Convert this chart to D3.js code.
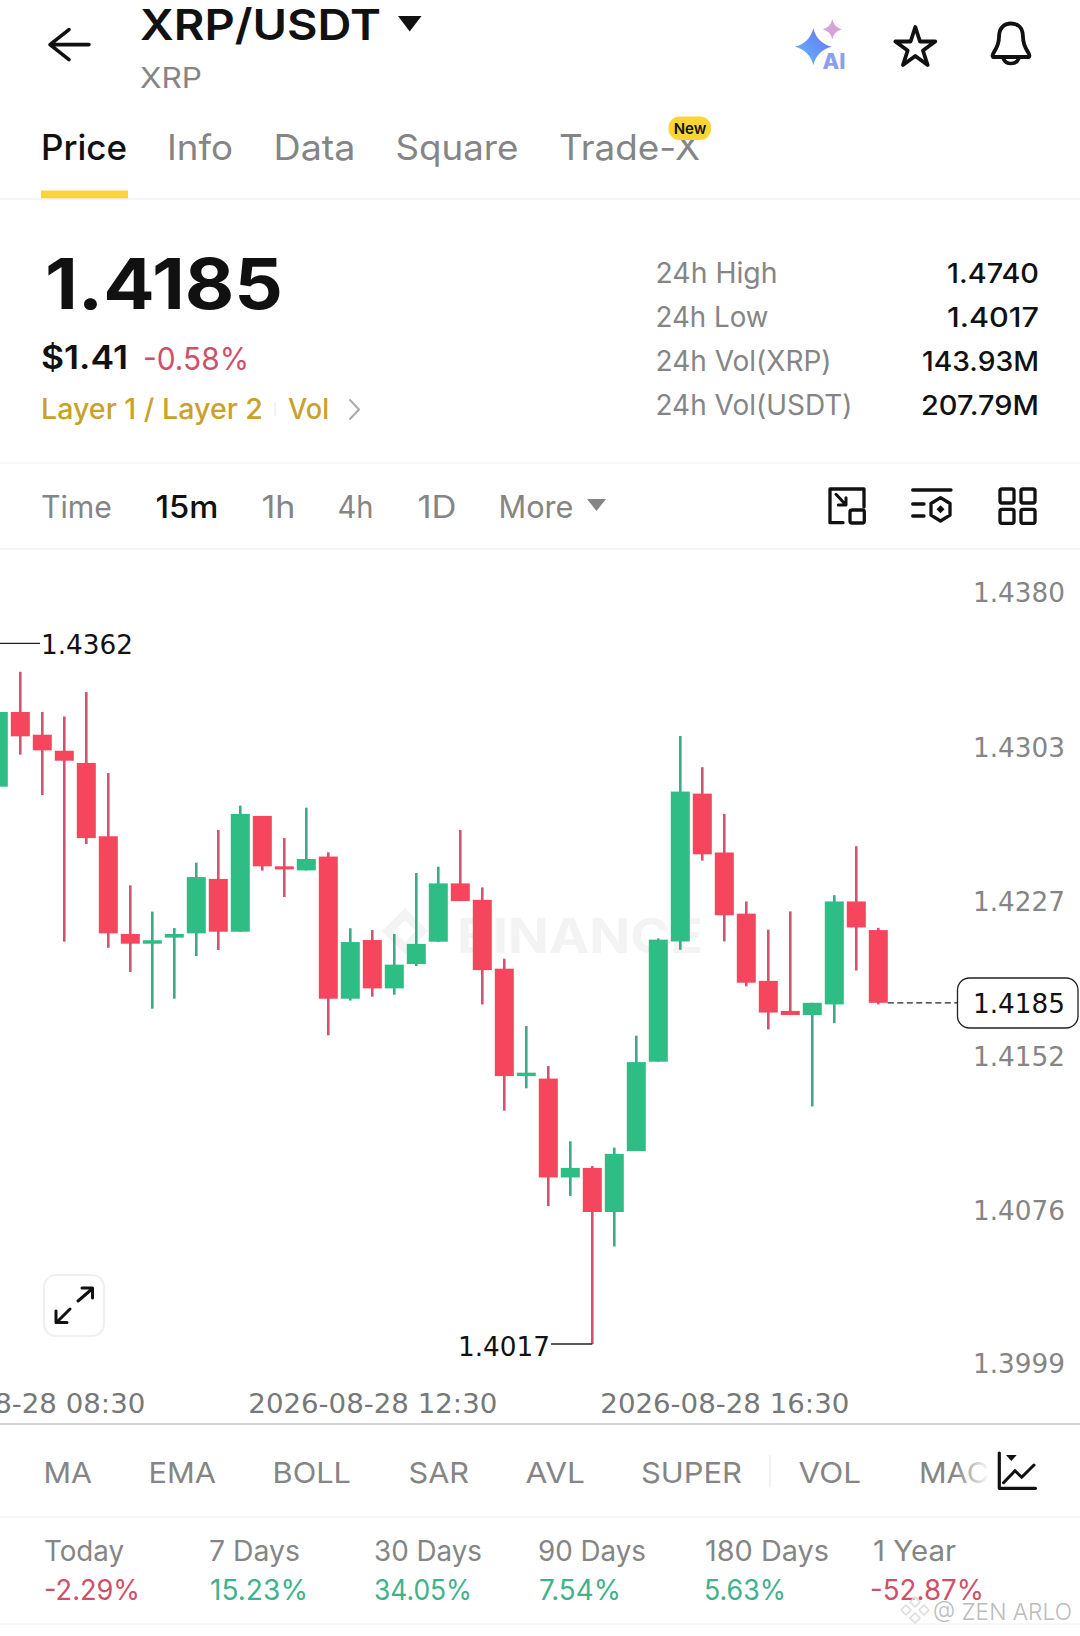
<!DOCTYPE html>
<html>
<head>
<meta charset="utf-8">
<title>XRP/USDT</title>
<script src="https://cdn.jsdelivr.net/npm/d3@7"></script>
<style>
    html, body { margin: 0; padding: 0; background: #fff; }
    svg { display: block; }
    text { font-family: Inter, "Noto Sans", sans-serif; }
    .axis text { font-family: "DejaVu Sans", sans-serif; }
    .axis path { display: none; }
</style>
</head>
<body>
<svg id="chart" width="1080" height="1636"></svg>
<script>
// Candles, one per 15 minutes
const tradeDate = "2026-08-28";
const candleTimes = [
    "08:15", "08:30", "08:45", "09:00", "09:15", "09:30", "09:45", "10:00", "10:15", "10:30",
    "10:45", "11:00", "11:15", "11:30", "11:45", "12:00", "12:15", "12:30", "12:45", "13:00",
    "13:15", "13:30", "13:45", "14:00", "14:15", "14:30", "14:45", "15:00", "15:15", "15:30",
    "15:45", "16:00", "16:15", "16:30", "16:45", "17:00", "17:15", "17:30", "17:45", "18:00", "18:15"
];
const openPrices = [
    1.42914, 1.43282, 1.43170, 1.43091, 1.43031, 1.42670, 1.42189, 1.42141, 1.42171, 1.42192,
    1.42460, 1.42200, 1.42770, 1.42522, 1.42502, 1.42570, 1.41870, 1.42159, 1.41921, 1.42041,
    1.42151, 1.42438, 1.42357, 1.42018, 1.41489, 1.41477, 1.40990, 1.41037, 1.40820, 1.41120,
    1.41560, 1.42152, 1.42880, 1.42590, 1.42289, 1.41958, 1.41810, 1.41790, 1.41842, 1.42349, 1.42208
];
const closePrices = [
    1.43282, 1.43162, 1.43093, 1.43042, 1.42661, 1.42192, 1.42141, 1.42158, 1.42189, 1.42469,
    1.42200, 1.42780, 1.42522, 1.42507, 1.42558, 1.41870, 1.42149, 1.41921, 1.42038, 1.42140,
    1.42438, 1.42351, 1.42011, 1.41489, 1.41506, 1.40990, 1.41037, 1.40820, 1.41106, 1.41558,
    1.42161, 1.42890, 1.42581, 1.42281, 1.41949, 1.41802, 1.41790, 1.41850, 1.42349, 1.42221, 1.41850
];
const highPrices = [
    1.43620, 1.43480, 1.43282, 1.43260, 1.43380, 1.42981, 1.42428, 1.42299, 1.42218, 1.42540,
    1.42701, 1.42821, 1.42770, 1.42661, 1.42811, 1.42591, 1.42217, 1.42208, 1.42189, 1.42489,
    1.42520, 1.42701, 1.42418, 1.42067, 1.41736, 1.41539, 1.41168, 1.41046, 1.41137, 1.41688,
    1.42167, 1.43164, 1.43010, 1.42780, 1.42349, 1.42210, 1.42300, 1.41850, 1.42380, 1.42621, 1.42219
];
const lowPrices = [
    1.42914, 1.43072, 1.42873, 1.42151, 1.42632, 1.42121, 1.42002, 1.41821, 1.41870, 1.42080,
    1.42110, 1.42200, 1.42501, 1.42371, 1.42502, 1.41690, 1.41861, 1.41880, 1.41890, 1.42031,
    1.42151, 1.42351, 1.41842, 1.41319, 1.41429, 1.40849, 1.40899, 1.40170, 1.40650, 1.41120,
    1.41560, 1.42111, 1.42550, 1.42152, 1.41931, 1.41719, 1.41790, 1.41340, 1.41750, 1.42009, 1.41842
];
const priceTicks = [1.4380, 1.4303, 1.4227, 1.4152, 1.4076, 1.3999];
const timeTicks = ["08:30", "12:30", "16:30"];
const lastPrice = 1.4185;
const periodHigh = 1.4362;
const periodLow = 1.4017;

// Page texts
const tabLabels = ["Price", "Info", "Data", "Square", "Trade-X"];
const statLabels = ["24h High", "24h Low", "24h Vol(XRP)", "24h Vol(USDT)"];
const statValues = ["1.4740", "1.4017", "143.93M", "207.79M"];
const intervalLabels = ["Time", "15m", "1h", "4h", "1D", "More"];
const indicatorLabels = ["MA", "EMA", "BOLL", "SAR", "AVL", "SUPER", "VOL", "MACD"];
const periodLabels = ["Today", "7 Days", "30 Days", "90 Days", "180 Days", "1 Year"];
const periodChanges = ["-2.29%", "15.23%", "34.05%", "7.54%", "5.63%", "-52.87%"];

// Layout of those texts: left edges and widths
const tabX = [41, 167, 273.5, 395.5, 559];
const tabW = [86, 66, 82, 123, 141];
const intervalX = [41, 155.5, 261.5, 337.5, 417.5, 498.5];
const intervalW = [71, 63, 34, 36, 39, 75];
const indicatorX = [43.5, 148.5, 272.5, 408.5, 525.5, 641, 798.5, 919];
const indicatorW = [48.5, 67.5, 78.5, 60.5, 59.5, 101, 62.5, 92];
const periodX = [44, 209, 374, 538, 705, 873];
const periodLabelW = [80, 91, 108, 108, 124, 83];
const periodValueX = [44, 210, 374, 539, 704, 870];
const periodValueW = [96, 98, 98, 82, 82, 114];
const statY = [283, 327, 371, 415];
const statLabelW = [122, 113, 176, 197];
const statValueW = [92, 92, 117, 118];
// The axis labels sit above their level, not all by the same amount
const priceLabelLift = [15, 16, 16, 14, 14, 18];

const RED = "#f6465d", GREEN = "#2ebd85";
const RED_WICK = "#cf5470", GREEN_WICK = "#3fa886";
const RED_TEXT = "#cf4f68", GREEN_TEXT = "#3fb28c";
const GREY = "#858585", INK = "#111";

const svg = d3.select("#chart");
const parseTime = d3.timeParse("%Y-%m-%d %H:%M");
const stamp = t => parseTime(tradeDate + " " + t);

// Write one text, optionally squeezed to the width it has in the picture
function label(parent, str, x, y, size, color, opts = {}) {
    const t = parent.append("text")
        .attr("x", x).attr("y", y)
        .attr("font-size", size)
        .attr("fill", color)
        .attr("font-weight", opts.weight || 400)
        .attr("text-anchor", opts.anchor || "start")
        .text(str);
    if (opts.family) t.style("font-family", opts.family);
    if (opts.w) t.attr("textLength", opts.w).attr("lengthAdjust", "spacingAndGlyphs");
    return t;
}

function hline(y, x1, x2, color, width) {
    svg.append("line").attr("x1", x1).attr("x2", x2).attr("y1", y).attr("y2", y)
        .attr("stroke", color).attr("stroke-width", width);
}

function stroked(d, width, color) {
    return svg.append("path").attr("d", d).attr("fill", "none")
        .attr("stroke", color || INK).attr("stroke-width", width)
        .attr("stroke-linecap", "round").attr("stroke-linejoin", "round");
}

// Four pointed star for the AI icon
function sparkle(cx, cy, rx, ry) {
    return `M${cx},${cy - ry}Q${cx + rx * 0.2},${cy - ry * 0.2} ${cx + rx},${cy}` +
        `Q${cx + rx * 0.2},${cy + ry * 0.2} ${cx},${cy + ry}` +
        `Q${cx - rx * 0.2},${cy + ry * 0.2} ${cx - rx},${cy}` +
        `Q${cx - rx * 0.2},${cy - ry * 0.2} ${cx},${cy - ry}Z`;
}

function drawHeader() {
    stroked("M89,44.6H51M69,29.6L50,44.6L69,59.6", 3.6);
    label(svg, "XRP/USDT", 140, 39.5, 43, INK, { weight: 600, w: 241 });
    svg.append("path").attr("d", "M398,16H421.5L409.7,31.4Z").attr("fill", INK);
    label(svg, "XRP", 140, 87.5, 28, GREY, { w: 62 });

    const defs = svg.append("defs");
    const grad = defs.append("linearGradient").attr("id", "aiBlue")
        .attr("x1", 1).attr("y1", 0).attr("x2", 0).attr("y2", 1);
    grad.append("stop").attr("offset", "0%").attr("stop-color", "#6a6bf5");
    grad.append("stop").attr("offset", "100%").attr("stop-color", "#5fc0fb");
    const fade = defs.append("linearGradient").attr("id", "macFade");
    fade.append("stop").attr("offset", "0%").attr("stop-color", "#fff").attr("stop-opacity", 0);
    fade.append("stop").attr("offset", "100%").attr("stop-color", "#fff");

    svg.append("path").attr("d", sparkle(813.3, 46.7, 18.5, 18.5)).attr("fill", "url(#aiBlue)");
    svg.append("path").attr("d", sparkle(832.3, 29.3, 9.5, 10)).attr("fill", "#d6a3d6");
    label(svg, "AI", 822.5, 69, 21, "#8a9ff0", { weight: 800, w: 23 });

    svg.append("path").attr("d", d3.symbol(d3.symbolStar, 495))
        .attr("transform", "translate(915.3,48)")
        .attr("fill", "none").attr("stroke", INK).attr("stroke-width", 3.8)
        .attr("stroke-linejoin", "round");

    stroked("M993,57C990,54 999,50 999,37C999,28 1004,23.5 1011,23.5C1018,23.5 1023,28 1023,37C1023,50 1032,54 1029,57Z", 3.8);
    stroked("M1003.5,59A8,7 0 0 0 1018.5,59", 3.6);

    tabLabels.forEach((s, i) => {
        label(svg, s, tabX[i], 160, 35, i === 0 ? INK : GREY, { weight: i === 0 ? 500 : 400, w: tabW[i] });
    });
    svg.append("rect").attr("x", 668.5).attr("y", 116.5).attr("width", 42.5).attr("height", 23.5)
        .attr("rx", 11).attr("fill", "#fcd535");
    label(svg, "New", 690, 134, 15, INK, { weight: 600, anchor: "middle" });
    svg.append("rect").attr("x", 41).attr("y", 190.5).attr("width", 87).attr("height", 8).attr("fill", "#fcd535");
    hline(199, 0, 1080, "#ececec", 1);

    label(svg, "1.4185", 45, 309, 70, INK, { weight: 700, w: 238 });
    label(svg, "$1.41", 41, 369, 32, INK, { weight: 600, w: 87 });
    label(svg, "-0.58%", 143, 369.5, 31, RED_TEXT, { w: 106 });
    label(svg, "Layer 1 / Layer 2", 41, 419, 28, "#c9a227", { weight: 500, w: 222 });
    hline(409, 274.5, 275.5, "#e8e8e8", 14);
    label(svg, "Vol", 288, 419, 28, "#c9a227", { weight: 500, w: 41 });
    stroked("M350,400L359,409.5L350,419", 2, "#aaa");

    statLabels.forEach((s, i) => {
        label(svg, s, 655.5, statY[i], 28, GREY, { w: statLabelW[i] });
        label(svg, statValues[i], 1039 - statValueW[i], statY[i], 27, INK, { weight: 500, w: statValueW[i] });
    });
    hline(463, 0, 1080, "#eee", 1);

    intervalLabels.forEach((s, i) => {
        label(svg, s, intervalX[i], 518, 31, i === 1 ? INK : GREY, { weight: i === 1 ? 500 : 400, w: intervalW[i] });
    });
    svg.append("path").attr("d", "M587,499H606L596.5,511Z").attr("fill", GREY);

    stroked("M864,507V489H830V522.7H843", 3.3);
    svg.append("rect").attr("x", 850).attr("y", 510).attr("width", 14.3).attr("height", 13).attr("rx", 2)
        .attr("fill", "none").attr("stroke", INK).attr("stroke-width", 3.3);
    stroked("M836,494.3L846,505M846,497.7V505H838.3", 3);

    stroked("M912.7,490H951", 3.3);
    stroked("M912.7,504H924M912.7,516H924", 3.3);
    stroked("M940.5,497.7L950,503.5V515.2L940.5,521L931,515.2V503.5Z", 3.3);
    svg.append("path").attr("d", "M940.5,505.3L944.5,509.3L940.5,513.3L936.5,509.3Z").attr("fill", INK);

    [[1000, 489], [1021, 489], [1000, 509.3], [1021, 509.3]].forEach(p => {
        svg.append("rect").attr("x", p[0]).attr("y", p[1]).attr("width", 14).attr("height", 14).attr("rx", 2)
            .attr("fill", "none").attr("stroke", INK).attr("stroke-width", 3.3);
    });
    hline(549, 0, 1080, "#f0f0f0", 1.5);
}

function drawChart() {
    const candles = candleTimes.map((t, i) => ({
        time: stamp(t),
        open: openPrices[i],
        close: closePrices[i],
        high: highPrices[i],
        low: lowPrices[i]
    }));

    const x = d3.scaleTime()
        .domain([stamp(candleTimes[0]), stamp(candleTimes[candleTimes.length - 1])])
        .range([-1.7, 878.3]);
    const y = d3.scaleLinear()
        .domain([lastPrice, periodLow])
        .range([1002.8, 1344]);
    const bodyW = 19;

    // Faint watermark behind the candles
    const mark = svg.append("g").attr("fill", "#f3f3f3");
    mark.append("path").attr("d", "M405,908L428,931L405,954L382,931ZM405,920L394,931L405,942L416,931Z").attr("fill-rule", "evenodd");
    label(mark, "BINANCE", 457, 953, 48, "#f3f3f3", { weight: 700, w: 246 });

    const g = svg.append("g").selectAll("g").data(candles).enter().append("g");
    g.append("line")
        .attr("x1", d => x(d.time)).attr("x2", d => x(d.time))
        .attr("y1", d => y(d.high)).attr("y2", d => y(d.low))
        .attr("stroke", d => d.close >= d.open ? GREEN_WICK : RED_WICK)
        .attr("stroke-width", 2.6);
    g.append("rect")
        .attr("x", d => x(d.time) - bodyW / 2)
        .attr("width", bodyW)
        .attr("y", d => y(Math.max(d.open, d.close)))
        .attr("height", d => Math.abs(y(d.open) - y(d.close)))
        .attr("fill", d => d.close >= d.open ? GREEN : RED);

    const yAxis = svg.append("g").attr("class", "axis")
        .attr("transform", "translate(973,0)")
        .call(d3.axisRight(y).tickValues(priceTicks).tickSize(0).tickPadding(0).tickFormat(d3.format(".4f")));
    yAxis.selectAll("text")
        .attr("font-size", 26.3).attr("fill", GREY)
        .attr("dy", "0.36em")
        .attr("transform", (d, i) => `translate(0,${-priceLabelLift[i]})`);

    // Time axis
    const xAxis = svg.append("g").attr("class", "axis")
        .attr("transform", "translate(0,1392)")
        .call(d3.axisBottom(x).tickValues(timeTicks.map(stamp)).tickSize(0).tickPadding(0)
            .tickFormat(d3.timeFormat("%Y-%m-%d %H:%M")));
    xAxis.selectAll("text")
        .attr("font-size", 26).attr("fill", "#777")
        .attr("dy", "0.8em")
        .attr("textLength", 249).attr("lengthAdjust", "spacingAndGlyphs");

    // High and low markers
    hline(y(periodHigh), x(candles[0].time), 40, "#222", 1.3);
    label(svg, d3.format(".4f")(periodHigh), 41, y(periodHigh) + 10.5, 26.3, INK, { family: "'DejaVu Sans'" });
    const lowX = x(candles[27].time);
    hline(y(periodLow), 551, lowX, "#222", 1.3);
    label(svg, d3.format(".4f")(periodLow), 550, y(periodLow) + 11.5, 26.3, INK, { family: "'DejaVu Sans'", anchor: "end" });

    // Last price tag
    svg.append("line")
        .attr("x1", x(candles[40].time) + bodyW / 2).attr("x2", 957)
        .attr("y1", y(lastPrice)).attr("y2", y(lastPrice))
        .attr("stroke", "#222").attr("stroke-width", 1.3).attr("stroke-dasharray", "6 3.5");
    svg.append("rect").attr("x", 957.5).attr("y", 978).attr("width", 120.5).attr("height", 50).attr("rx", 12)
        .attr("fill", "#fff").attr("stroke", "#222").attr("stroke-width", 1.3);
    label(svg, d3.format(".4f")(lastPrice), 973, y(lastPrice) + 10.5, 26.3, INK, { family: "'DejaVu Sans'" });

    // Expand button
    svg.append("rect").attr("x", 44).attr("y", 1275).attr("width", 60).attr("height", 61).attr("rx", 12)
        .attr("fill", "#fff").attr("stroke", "#efefef").attr("stroke-width", 2);
    stroked("M78,1301L92,1289M82,1288H92.5V1298", 3);
    stroked("M70,1309L57,1322M56,1311V1322.5H67", 3);

    hline(1424, 0, 1080, "#a8a8a8", 1.2);
}

function drawFooter() {
    indicatorLabels.forEach((s, i) => {
        label(svg, s, indicatorX[i], 1482.7, 29, GREY, { w: indicatorW[i] });
    });
    hline(1471, 769.5, 770.5, "#e6e6e6", 32);
    svg.append("rect").attr("x", 955).attr("y", 1450).attr("width", 35).attr("height", 44).attr("fill", "url(#macFade)");
    svg.append("rect").attr("x", 990).attr("y", 1450).attr("width", 50).attr("height", 44).attr("fill", "#fff");
    stroked("M999.3,1453V1488.3H1035.5", 3.2);
    svg.append("path").attr("d", "M1006,1455H1016.7L1011.3,1461Z").attr("fill", INK);
    stroked("M1003.5,1482.7L1015,1470.7L1021.7,1477.3L1034,1465", 3);

    hline(1517, 0, 1080, "#eee", 1);
    periodLabels.forEach((s, i) => {
        label(svg, s, periodX[i], 1560.5, 28, GREY, { w: periodLabelW[i] });
        const down = periodChanges[i].startsWith("-");
        label(svg, periodChanges[i], periodValueX[i], 1600, 28, down ? RED_TEXT : GREEN_TEXT, { w: periodValueW[i] });
    });
    hline(1624, 0, 1080, "#eee", 1);

    // Reposter's mark over the bottom corner
    [[915, 1602], [906, 1610], [924, 1610], [915, 1618]].forEach(p => {
        stroked(`M${p[0]},${p[1] - 5}L${p[0] + 5},${p[1]}L${p[0]},${p[1] + 5}L${p[0] - 5},${p[1]}Z`, 1.6, "#dcdcdc");
    });
    label(svg, "@ ZEN ARLO", 933, 1620, 23, "#bcbcbc", { w: 139, weight: 300 });
}

drawHeader();
drawChart();
drawFooter();
</script>
</body>
</html>
